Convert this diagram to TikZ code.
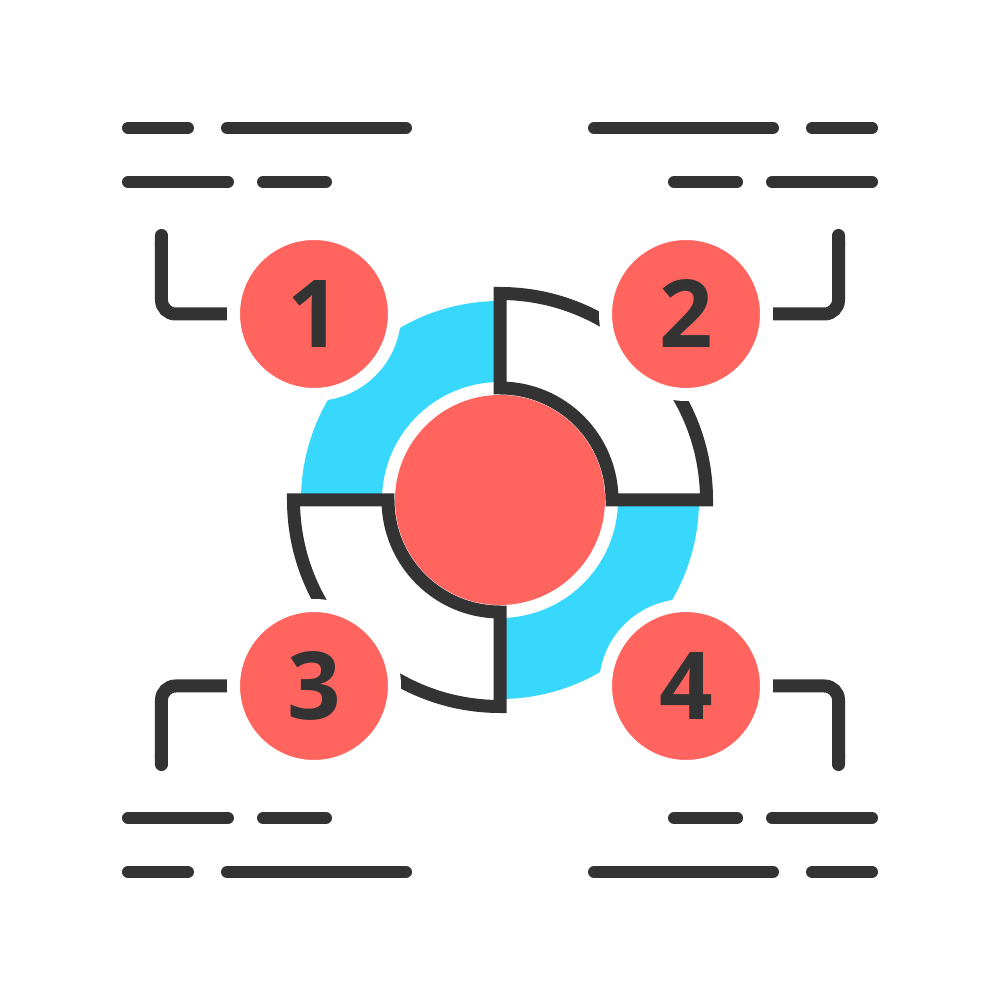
\documentclass[tikz,border=0pt]{standalone}
\usepackage{fontspec}
\newfontfamily\numfont{Open Sans}
\usetikzlibrary{arrows.meta}
\definecolor{ink}{HTML}{333333}
\definecolor{numred}{HTML}{FF655E}
\definecolor{ringblue}{HTML}{38D8FC}
\tikzset{
  num/.style={circle, fill=numred, draw=white, line width=0.13cm, minimum size=1.61cm,
    inner sep=0pt, text=ink, font=\numfont\bfseries\fontsize{26.7}{30}\selectfont},
  conn/.style={draw=ink, line width=0.13cm, rounded corners=0.14cm, -{Round Cap}},
  txt/.style={draw=ink, line width=0.12cm, line cap=round},
  quad/.style={draw=ink, line width=0.13cm, miter limit=10},
}

\begin{document}
\begin{tikzpicture}
      \useasboundingbox (-5, -5) rectangle (5, 5);
      
      % blue quarters
      \fill[ringblue] (0, 1.18) -- (0, 1.99) arc (90:180:1.99) -- (-1.18, 0) arc (180:90:1.18) -- cycle;
      \fill[ringblue] (0, -1.18) -- (0, -1.99) arc (270:360:1.99) -- (1.18, 0) arc (0:-90:1.18) -- cycle;
      
      % outlined quarters
      \draw[quad] (0, 2.065) -- (0, 1.12) arc (90:0:1.12) -- (2.065, 0) arc (0:90:2.065) -- cycle;
      \draw[quad] (0, -2.065) -- (0, -1.12) arc (270:180:1.12) -- (-2.065, 0) arc (180:270:2.065) -- cycle;
      
      \node[circle, fill=numred, minimum size=2.1cm, inner sep=0pt] (hub) at (0, 0) {};
      
      \node[num] (n1) at (-1.86, 1.86) {1};
      \node[num] (n2) at (1.86, 1.86) {2};
      \node[num] (n3) at (-1.86, -1.86) {3};
      \node[num] (n4) at (1.86, -1.86) {4};
      
      \coordinate (c1) at (-3.385, 2.71);
      \coordinate (c2) at (3.385, 2.71);
      \coordinate (c3) at (-3.385, -2.71);
      \coordinate (c4) at (3.385, -2.71);
      
      \draw[conn] (n1.west) -| (c1);
      \draw[conn] (n2.east) -| (c2);
      \draw[conn] (n3.west) -| (c3);
      \draw[conn] (n4.east) -| (c4);
      
      % text lines
      \foreach \sx in {1, -1}
        \foreach \sy in {1, -1} {
          \begin{scope}[xscale=\sx, yscale=\sy]
            \draw[txt] (-3.72, 3.72) -- (-3.12, 3.72);
            \draw[txt] (-2.73, 3.72) -- (-0.94, 3.72);
            \draw[txt] (-3.72, 3.18) -- (-2.72, 3.18);
            \draw[txt] (-2.37, 3.18) -- (-1.74, 3.18);
          \end{scope}
        }
      
      \end{tikzpicture}
\end{document}
